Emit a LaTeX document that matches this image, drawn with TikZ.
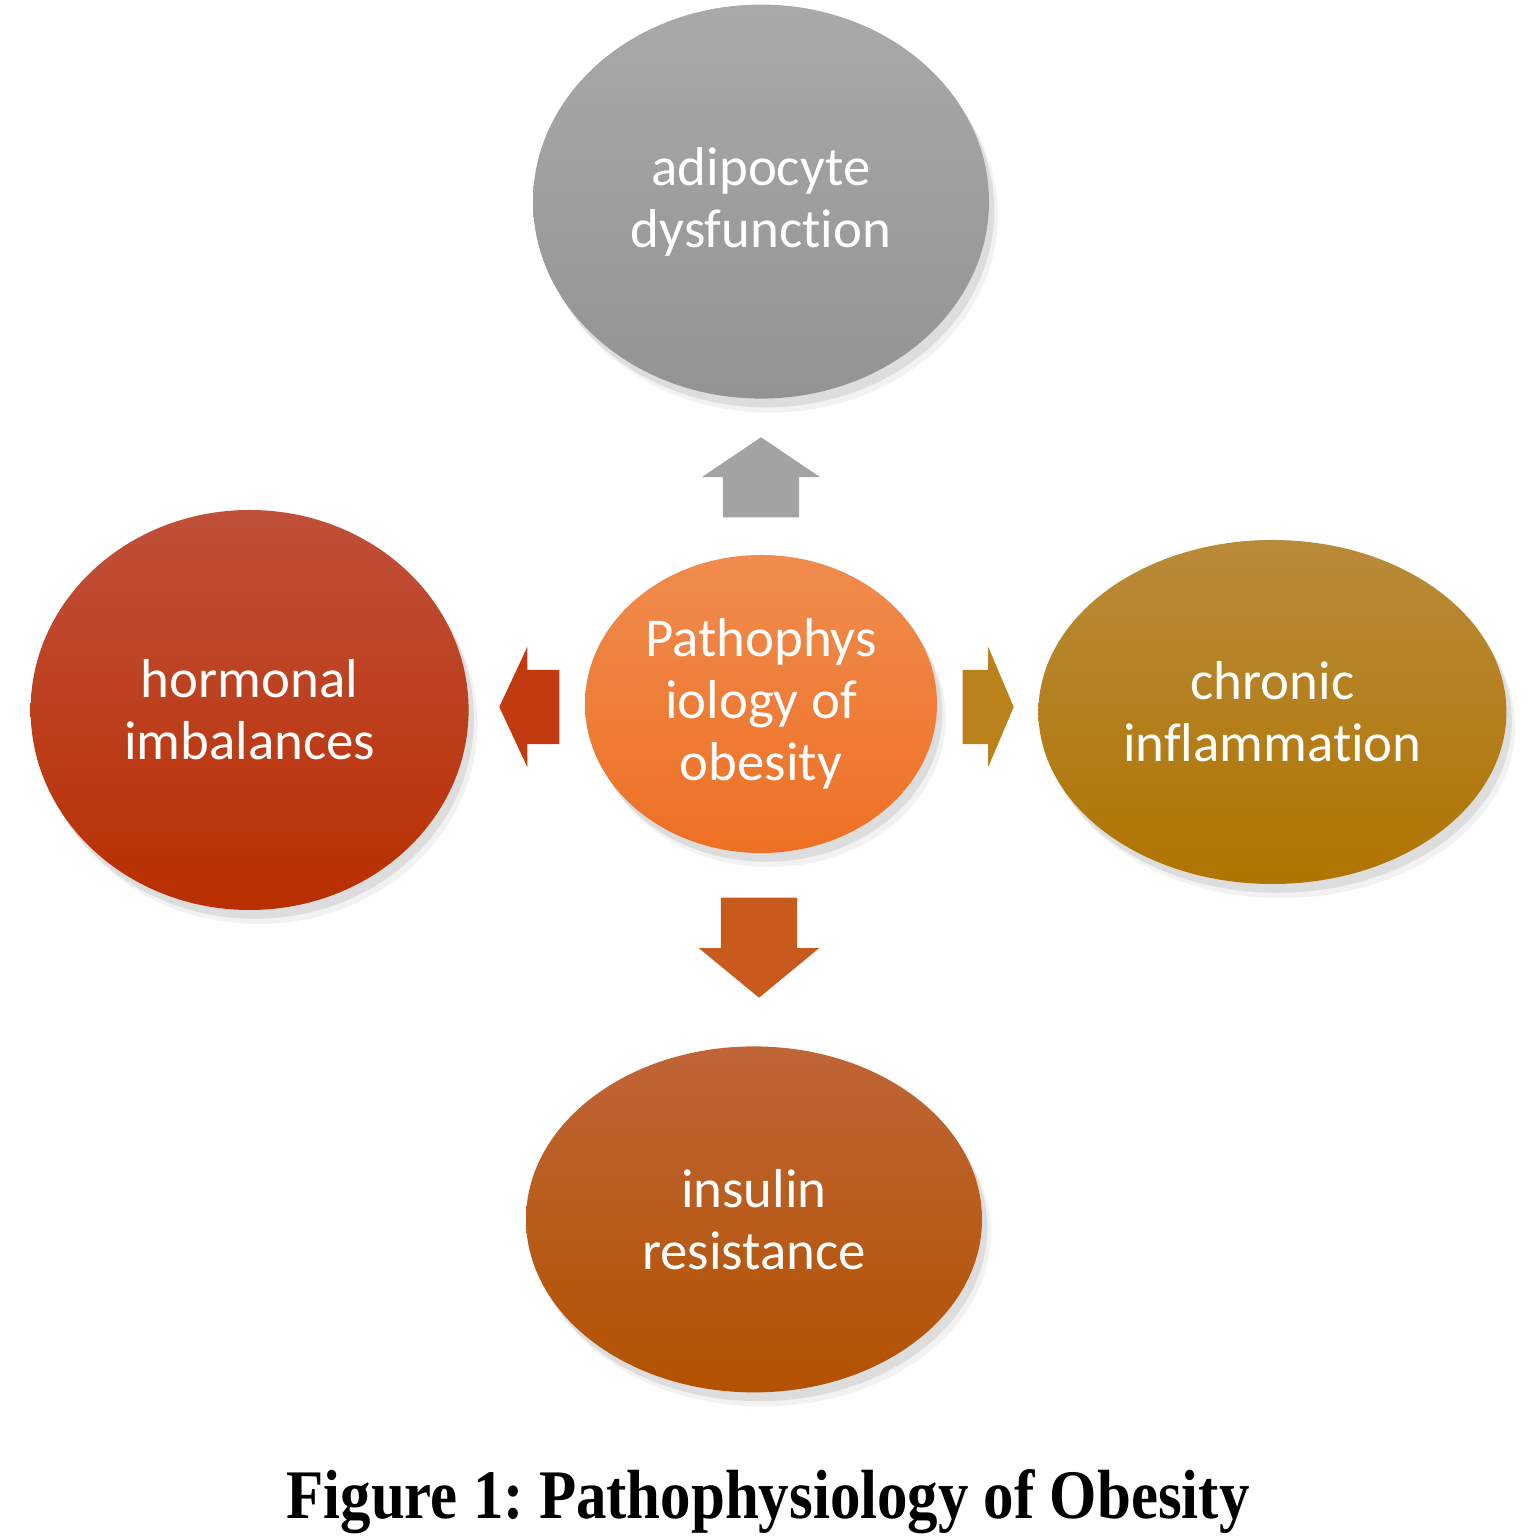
\documentclass[tikz,border=0pt]{standalone}
\usepackage{xcolor}
\usepackage{fontspec}
\usepackage{tikz}
\usetikzlibrary{positioning, calc, shapes.geometric, shapes.arrows, shadows}

\setmainfont{Liberation Serif}
\newfontfamily\bubblefont[Ligatures=CommonOff]{Carlito}
\frenchspacing

\definecolor{coretop}{HTML}{F08C4E}
\definecolor{corebot}{HTML}{EE7024}
\definecolor{adipotop}{HTML}{A9A9A9}
\definecolor{adipobot}{HTML}{939393}
\definecolor{hormotop}{HTML}{C0503A}
\definecolor{hormobot}{HTML}{B92F00}
\definecolor{chrontop}{HTML}{B98A3A}
\definecolor{chronbot}{HTML}{B07400}
\definecolor{insultop}{HTML}{BF6537}
\definecolor{insulbot}{HTML}{B35200}
\definecolor{arrgrey}{HTML}{A3A3A3}
\definecolor{arrred}{HTML}{C23A10}
\definecolor{arrgold}{HTML}{B9821A}
\definecolor{arrrust}{HTML}{C75A1C}

\begin{document}
\begin{tikzpicture}[
        bubble/.style = {ellipse, inner sep=0pt, align=center, text=white,
          font=\bubblefont\fontsize{15.6}{17.6}\selectfont,
          drop shadow={shadow xshift=1.5pt, shadow yshift=-2.5pt, opacity=.18},
          drop shadow={shadow xshift=2.5pt, shadow yshift=-4pt, opacity=.1}},
        fat/.style = {single arrow, draw=none, inner xsep=0pt, outer sep=0pt,
          anchor=tail},
      ]
      \useasboundingbox (0,0) rectangle (15.36,15.36);
      \fill[white] (0,0) rectangle (15.36,15.36);

      % centre and the four outcomes
      \node[bubble, minimum width=3.52cm, minimum height=2.98cm,
        top color=coretop, bottom color=corebot] (core) at (7.61,8.32)
        {Pathophys\\iology of\\obesity};
      \node[bubble, minimum width=4.56cm, minimum height=3.94cm,
        top color=adipotop, bottom color=adipobot, above=1.55cm of core] (adipo)
        {adipocyte\\dysfunction};
      \node[bubble, minimum width=4.38cm, minimum height=4.0cm,
        top color=hormotop, bottom color=hormobot, left=1.15cm of core, yshift=-.06cm] (hormo)
        {hormonal\\imbalances};
      \node[bubble, minimum width=4.68cm, minimum height=3.44cm,
        top color=chrontop, bottom color=chronbot, right=1cm of core, yshift=-.08cm] (chron)
        {chronic\\inflammation};
      \node[bubble, minimum width=4.56cm, minimum height=3.46cm,
        top color=insultop, bottom color=insulbot, below=1.92cm of core, xshift=-.07cm] (insul)
        {insulin\\resistance};

      % block arrows
      \node[fat, rotate=90, fill=arrgrey, inner ysep=.375cm, minimum height=.8cm,
        minimum width=1.17cm, single arrow head extend=.21cm, single arrow tip angle=112]
        (toadipo) at ($(core.north)+(0,.37)$) {};
      \node[fat, rotate=180, fill=arrred, inner ysep=.365cm, minimum height=.6cm,
        minimum width=1.19cm, single arrow head extend=.23cm, single arrow tip angle=130]
        (tohormo) at ($(core.west)+(-.25,-.03)$) {};
      \node[fat, fill=arrgold, inner ysep=.365cm, minimum height=.51cm,
        minimum width=1.19cm, single arrow head extend=.23cm, single arrow tip angle=134]
        (tochron) at ($(core.east)+(.25,-.03)$) {};
      \node[fat, rotate=-90, fill=arrrust, inner ysep=.375cm, minimum height=1cm,
        minimum width=1.19cm, single arrow head extend=.22cm, single arrow tip angle=101]
        (toinsul) at ($(core.south)+(-.02,-.44)$) {};

      \node[font=\bfseries\fontsize{19.8}{22}\selectfont, anchor=base, inner sep=0pt] (caption)
        at (7.68,.18) {\scalebox{.875}[1]{Figure 1: Pathophysiology of Obesity}};
    \end{tikzpicture}
\end{document}
